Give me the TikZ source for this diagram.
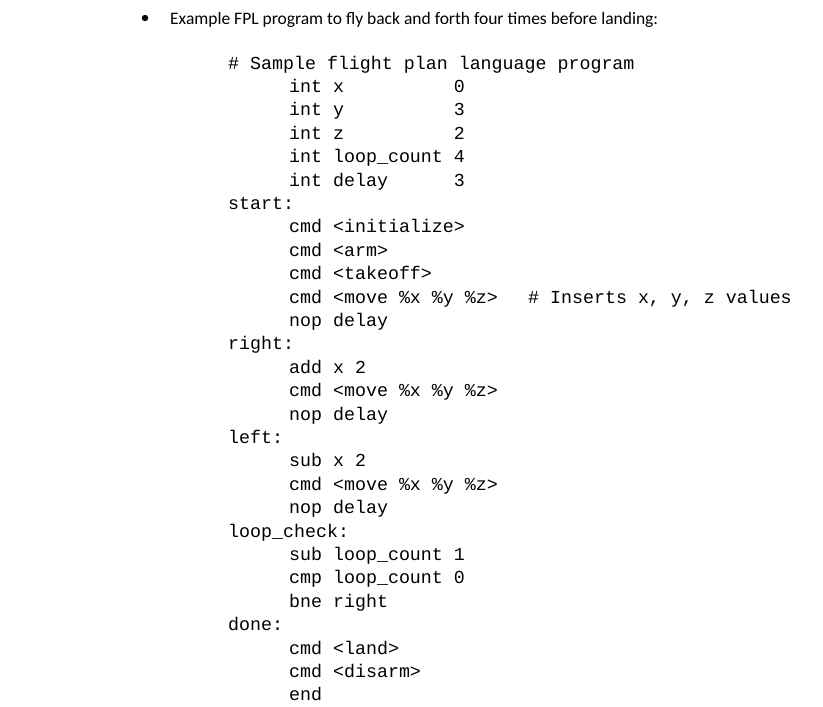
\documentclass[tikz,border=0pt]{standalone}
\usepackage{fontspec}
\setmainfont{Carlito}
\setmonofont{Liberation Mono}
\begin{document}
\begin{tikzpicture}[x=1pt,y=-1pt,
  code/.style={anchor=base west,inner sep=0pt,font=\ttfamily\fontsize{18.3}{20}\selectfont},
  head/.style={anchor=base west,inner sep=0pt,font=\fontsize{17.5}{20}\selectfont}]
\useasboundingbox (0,0) rectangle (823,707);
\fill (145,18) circle (3.2) coordinate (b);
\node[head] (h) at (170,24) {Example FPL program to fly back and forth four times before landing:};
\newcommand\Ln[3]{\node[code] (n#1) at (#2,{63+#1*23.4+6}) {\obeyspaces#3};}
\Ln{0}{228}{\# Sample flight plan language program}
\Ln{1}{289}{int x\ \ \ \ \ \ \ \ \ \ 0}
\Ln{2}{289}{int y\ \ \ \ \ \ \ \ \ \ 3}
\Ln{3}{289}{int z\ \ \ \ \ \ \ \ \ \ 2}
\Ln{4}{289}{int loop\_count 4}
\Ln{5}{289}{int delay\ \ \ \ \ \ 3}
\Ln{6}{228}{start:}
\Ln{7}{289}{cmd <initialize>}
\Ln{8}{289}{cmd <arm>}
\Ln{9}{289}{cmd <takeoff>}
\Ln{10}{289}{cmd <move \%x \%y \%z>}
\node[code] (c10) at (528,{63+10*23.4+6}) {\# Inserts x, y, z values};
\Ln{11}{289}{nop delay}
\Ln{12}{228}{right:}
\Ln{13}{289}{add x 2}
\Ln{14}{289}{cmd <move \%x \%y \%z>}
\Ln{15}{289}{nop delay}
\Ln{16}{228}{left:}
\Ln{17}{289}{sub x 2}
\Ln{18}{289}{cmd <move \%x \%y \%z>}
\Ln{19}{289}{nop delay}
\Ln{20}{228}{loop\_check:}
\Ln{21}{289}{sub loop\_count 1}
\Ln{22}{289}{cmp loop\_count 0}
\Ln{23}{289}{bne right}
\Ln{24}{228}{done:}
\Ln{25}{289}{cmd <land>}
\Ln{26}{289}{cmd <disarm>}
\Ln{27}{289}{end}
\end{tikzpicture}
\end{document}
